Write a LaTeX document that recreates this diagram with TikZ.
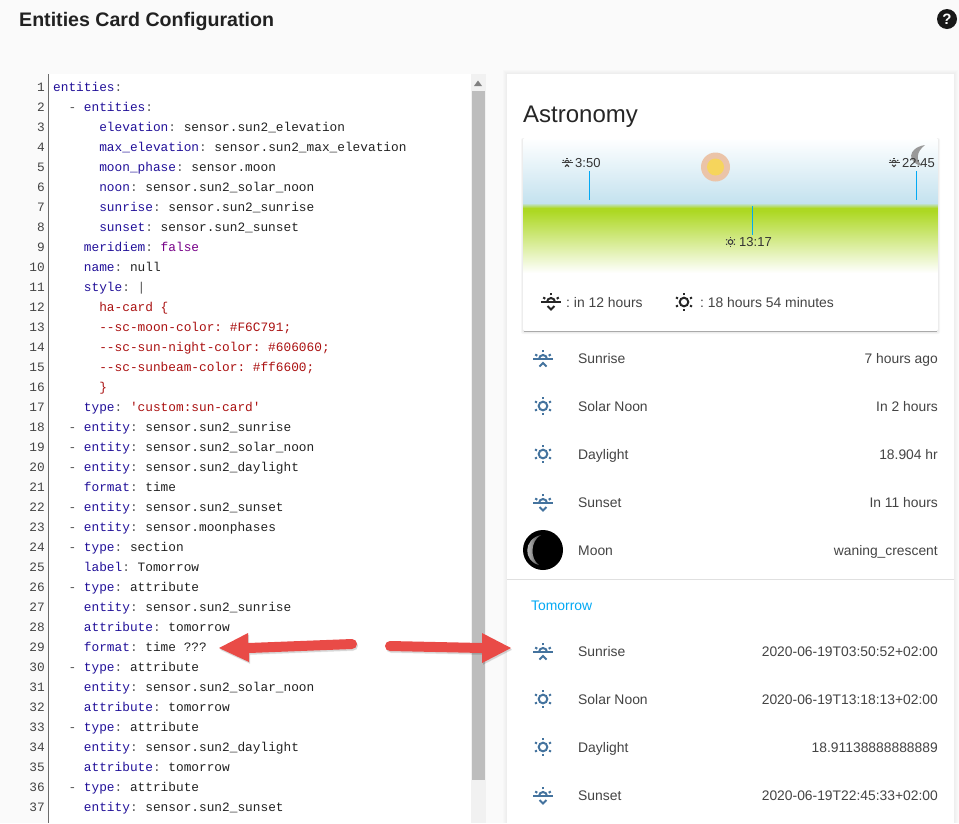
\documentclass[tikz,border=0pt]{standalone}
\usepackage{fontspec}
\setmainfont{Liberation Sans}
\newfontfamily\codefont{Liberation Mono}
\definecolor{pagebg}{HTML}{FAFAFA}
\definecolor{keyc}{HTML}{221199}
\definecolor{kwc}{HTML}{770088}
\definecolor{strc}{HTML}{AA1111}
\definecolor{metac}{HTML}{555555}
\definecolor{codec}{HTML}{222222}
\definecolor{numc}{HTML}{444444}
\definecolor{gutterline}{HTML}{6C6C6C}
\definecolor{trackc}{HTML}{F1F1F1}
\definecolor{thumbc}{HTML}{BDBDBD}
\definecolor{iconc}{HTML}{44739E}
\definecolor{rowtext}{HTML}{444444}
\definecolor{accent}{HTML}{03A9F4}
\definecolor{arrowc}{HTML}{E94B47}
\definecolor{skyc}{HTML}{C4E2EF}
\definecolor{grassc}{HTML}{ADD823}
\definecolor{sunouter}{HTML}{EBC4A8}
\definecolor{suninner}{HTML}{F6D55C}
\frenchspacing
\newcommand{\K}[1]{\textcolor{keyc}{#1}\textcolor{metac}{:}}
\newcommand{\D}{\textcolor{metac}{- }}
\newcommand{\cl}[3]{\node[codeline] (line#1) at ({53+#2*7.68},{(#1-1)*20+91}) {#3};
  \node[linenum] (num#1) at (45,{(#1-1)*20+91}) {#1};}
\tikzset{
  codeline/.style={anchor=base west,inner sep=0pt,font=\codefont\fontsize{12.8}{14}\selectfont,text=codec},
  linenum/.style={anchor=base east,inner sep=0pt,font=\codefont\fontsize{12.8}{14}\selectfont,text=numc},
  rowlabel/.style={anchor=base west,inner sep=0pt,font=\fontsize{13.9}{16}\selectfont,text=rowtext},
  rowvalue/.style={anchor=base east,inner sep=0pt,font=\fontsize{13.85}{16}\selectfont,text=rowtext},
  smalltime/.style={anchor=base west,inner sep=0pt,font=\fontsize{13}{15}\selectfont,text=black!80},
  beam/.style={draw=accent,line width=1pt},
  iconline/.style={line width=2pt},
  tiny icon/.style={scale=0.55,iconline/.style={line width=1.1pt}},
  noonicon/.pic={
    \draw[iconline] (0,0) circle (4.3);
    \foreach \a in {30,90,150,210,270,330}{\draw[iconline] (\a:7) -- (\a:9.2);}
  },
  sunriseicon/.pic={
    \draw[iconline] (-10,1) -- (10,1);
    \draw[iconline] (-4,1) arc (180:360:4);
    \foreach \a in {-30,-90,-150}{\draw[iconline] ([shift={(0,1)}]\a:6.6) -- ([shift={(0,1)}]\a:9);}
    \draw[iconline] (-3.5,8.5) -- (0,5) -- (3.5,8.5);
  },
  sunseticon/.pic={
    \draw[iconline] (-10,1) -- (10,1);
    \draw[iconline] (-4,1) arc (180:360:4);
    \foreach \a in {-30,-90,-150}{\draw[iconline] ([shift={(0,1)}]\a:6.6) -- ([shift={(0,1)}]\a:9);}
    \draw[iconline] (-3.5,5) -- (0,8.5) -- (3.5,5);
  },
}
\begin{document}
\begin{tikzpicture}[x=1pt,y=-1pt]
\useasboundingbox (0,0) rectangle (959,823);
\fill[pagebg] (0,0) rectangle (959,823);
\node[anchor=base west,inner sep=0pt,font=\bfseries\fontsize{19.6}{22}\selectfont,text=black!87] (title) at (19,26) {Entities Card Configuration};
\fill[black!90] (947,19) circle (10);
\node[inner sep=0pt,font=\bfseries\fontsize{15}{16}\selectfont,text=white] (help) at (947,19) {?};
% editor
\fill[white] (48,74) rectangle (471,823);
\draw[gutterline,line width=1pt] (48,74) -- (48,823);
\fill[trackc] (471,74) rectangle (486,823);
\fill[thumbc] (472,91) rectangle (485,780);
\fill[black!50] (474,86) -- (478,80.5) -- (482,86) -- cycle;
\cl{1}{0}{\K{entities}}
\cl{2}{2}{\D\K{entities}}
\cl{3}{6}{\K{elevation} sensor.sun2\_elevation}
\cl{4}{6}{\K{max\_elevation} sensor.sun2\_max\_elevation}
\cl{5}{6}{\K{moon\_phase} sensor.moon}
\cl{6}{6}{\K{noon} sensor.sun2\_solar\_noon}
\cl{7}{6}{\K{sunrise} sensor.sun2\_sunrise}
\cl{8}{6}{\K{sunset} sensor.sun2\_sunset}
\cl{9}{4}{\K{meridiem} \textcolor{kwc}{false}}
\cl{10}{4}{\K{name} null}
\cl{11}{4}{\K{style} \textcolor{metac}{|}}
\cl{12}{6}{\textcolor{strc}{ha-card \{}}
\cl{13}{6}{\textcolor{strc}{--sc-moon-color: \#F6C791;}}
\cl{14}{6}{\textcolor{strc}{--sc-sun-night-color: \#606060;}}
\cl{15}{6}{\textcolor{strc}{--sc-sunbeam-color: \#ff6600;}}
\cl{16}{6}{\textcolor{strc}{\}}}
\cl{17}{4}{\K{type} \textcolor{strc}{'custom:sun-card'}}
\cl{18}{2}{\D\K{entity} sensor.sun2\_sunrise}
\cl{19}{2}{\D\K{entity} sensor.sun2\_solar\_noon}
\cl{20}{2}{\D\K{entity} sensor.sun2\_daylight}
\cl{21}{4}{\K{format} time}
\cl{22}{2}{\D\K{entity} sensor.sun2\_sunset}
\cl{23}{2}{\D\K{entity} sensor.moonphases}
\cl{24}{2}{\D\K{type} section}
\cl{25}{4}{\K{label} Tomorrow}
\cl{26}{2}{\D\K{type} attribute}
\cl{27}{4}{\K{entity} sensor.sun2\_sunrise}
\cl{28}{4}{\K{attribute} tomorrow}
\cl{29}{4}{\K{format} time ???}
\cl{30}{2}{\D\K{type} attribute}
\cl{31}{4}{\K{entity} sensor.sun2\_solar\_noon}
\cl{32}{4}{\K{attribute} tomorrow}
\cl{33}{2}{\D\K{type} attribute}
\cl{34}{4}{\K{entity} sensor.sun2\_daylight}
\cl{35}{4}{\K{attribute} tomorrow}
\cl{36}{2}{\D\K{type} attribute}
\cl{37}{4}{\K{entity} sensor.sun2\_sunset}
% right card
\foreach \o in {4,3,2,1}{\fill[black,opacity=0.012] (507-\o,74-\o) rectangle (954+\o,823);}
\fill[white] (507,74) rectangle (954,823);
\node[anchor=base west,inner sep=0pt,font=\fontsize{24}{28}\selectfont,text=black!85] (astro) at (523,122) {Astronomy};
% sun card
\foreach \o in {3,2,1}{\fill[black,opacity=0.035,rounded corners=2pt] (523-\o+1,138) rectangle (938+\o-1,331+\o);}
\fill[black,opacity=0.25] (524,331) rectangle (937,332);
\begin{scope}
\clip[rounded corners=2pt] (523,138) rectangle (938,331);
\fill[white] (523,138) rectangle (938,331);
\shade[top color=white,bottom color=skyc] (523,138) rectangle (938,203);
\shade[top color=skyc,bottom color=grassc] (523,203) rectangle (938,208);
\fill[grassc] (523,208) rectangle (938,211);
\shade[top color=grassc,bottom color=white] (523,211) rectangle (938,273);
\end{scope}
\fill[black!40] (925,145) .. controls (907,148) and (907,163) .. (922,166) .. controls (916,160) and (916,152) .. (925,145) -- cycle;
\draw[beam] (589,171) -- (589,200);
\draw[beam] (916,171) -- (916,200);
\draw[beam] (752.5,206) -- (752.5,235);
\fill[sunouter] (715.5,167) circle (14.5);
\fill[suninner] (715.5,167) circle (8.5);
\pic[color=black!75,tiny icon] at (567,162) {sunriseicon};
\node[smalltime] (rise) at (575,167.5) {3:50};
\pic[color=black!75,tiny icon] at (894,162) {sunseticon};
\node[smalltime] (set) at (902,167.5) {22:45};
\pic[color=black!75,tiny icon] at (730.5,242) {noonicon};
\node[smalltime] (noon) at (739,246.5) {13:17};
\pic[color=black!85] at (551,301) {sunseticon};
\node[rowlabel] (tonight) at (566,307) {: in 12 hours};
\pic[color=black!85] at (684,302) {noonicon};
\node[rowlabel] (daylen) at (700,307) {: 18 hours 54 minutes};
% rows
\pic[color=iconc] at (543,358) {sunriseicon};
\node[rowlabel] (r1) at (578,363) {Sunrise};
\node[rowvalue] (v1) at (938,363) {7 hours ago};
\pic[color=iconc] at (543,406) {noonicon};
\node[rowlabel] (r2) at (578,411) {Solar Noon};
\node[rowvalue] (v2) at (938,411) {In 2 hours};
\pic[color=iconc] at (543,454) {noonicon};
\node[rowlabel] (r3) at (578,459) {Daylight};
\node[rowvalue] (v3) at (938,459) {18.904 hr};
\pic[color=iconc] at (543,502) {sunseticon};
\node[rowlabel] (r4) at (578,507) {Sunset};
\node[rowvalue] (v4) at (938,507) {In 11 hours};
\fill[black] (543,550) circle (20);
\shade[left color=white!88!black,right color=black!75] (541,535) .. controls (523,539) and (523,561) .. (539,565) .. controls (530,559) and (530,541) .. (541,535) -- cycle;
\node[rowlabel] (r5) at (578,555) {Moon};
\node[rowvalue] (v5) at (938,555) {waning\_crescent};
\draw[black!12,line width=1pt] (507,579.5) -- (954,579.5);
\node[rowlabel,text=accent] (tom) at (531,610) {Tomorrow};
\pic[color=iconc] at (543,651) {sunriseicon};
\node[rowlabel] (r6) at (578,656) {Sunrise};
\node[rowvalue] (v6) at (938,656) {2020-06-19T03:50:52+02:00};
\pic[color=iconc] at (543,699) {noonicon};
\node[rowlabel] (r7) at (578,704) {Solar Noon};
\node[rowvalue] (v7) at (938,704) {2020-06-19T13:18:13+02:00};
\pic[color=iconc] at (543,747) {noonicon};
\node[rowlabel] (r8) at (578,752) {Daylight};
\node[rowvalue] (v8) at (938,752) {18.91138888888889};
\pic[color=iconc] at (543,795) {sunseticon};
\node[rowlabel] (r9) at (578,800) {Sunset};
\node[rowvalue] (v9) at (938,800) {2020-06-19T22:45:33+02:00};
% annotation arrows
\foreach \dx/\dy/\op/\col in {1/2/0.06/black,1/1.5/0.1/black,0/0/1/arrowc}{
  \fill[\col,opacity=\op,shift={(\dx,\dy)}] (219,648) -- (248,633) -- (248,643) -- (352,639) arc (-90:90:5) -- (249,653) -- (249,662) -- cycle;
  \fill[\col,opacity=\op,shift={(\dx,\dy)}] (511,648) -- (482,633) -- (482,643) -- (390,641) arc (270:90:5) -- (482,653) -- (482,663) -- cycle;
}
\end{tikzpicture}
\end{document}
